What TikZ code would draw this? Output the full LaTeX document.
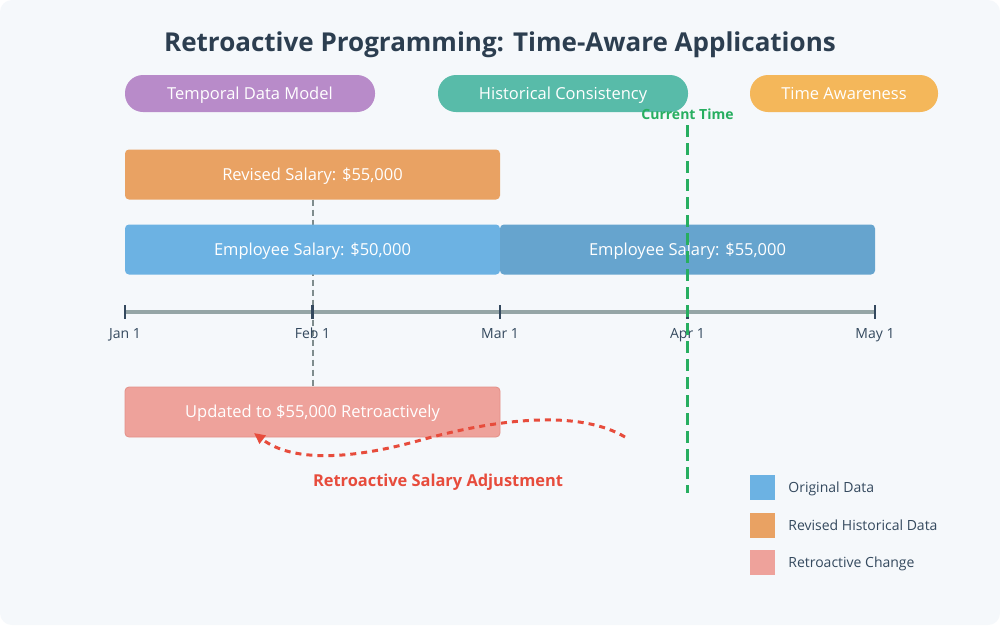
\documentclass[tikz,border=0pt]{standalone}
\usepackage{fontspec}
\setmainfont{Open Sans}
\usetikzlibrary{arrows.meta}

\definecolor{bgc}{HTML}{F5F8FB}
\definecolor{titlec}{HTML}{2C3E50}
\definecolor{inkc}{HTML}{34495E}
\definecolor{purplec}{HTML}{B88BC9}
\definecolor{tealc}{HTML}{58BBA9}
\definecolor{amberc}{HTML}{F4B75A}
\definecolor{revc}{HTML}{E9A263}
\definecolor{origc}{HTML}{6CB2E3}
\definecolor{newc}{HTML}{66A4CE}
\definecolor{retroc}{HTML}{EEA29B}
\definecolor{retroedge}{HTML}{E39088}
\definecolor{axisc}{HTML}{95A5A6}
\definecolor{guidec}{HTML}{7F8C8D}
\definecolor{nowc}{HTML}{27AE60}
\definecolor{adjc}{HTML}{E74C3C}

\tikzset{
  pill/.style={rounded corners=18pt, minimum width=250pt, minimum height=37pt,
    inner sep=0pt, text=white, text height=11.7pt, text depth=0pt,
    font=\fontsize{16.5}{19}\selectfont},
  bar/.style={rounded corners=4pt, minimum width=375pt, minimum height=50pt,
    inner sep=0pt, text=white, text height=11.7pt, text depth=0pt,
    font=\fontsize{16.5}{19}\selectfont},
  datelbl/.style={text=inkc, text height=10pt, text depth=0pt,
    font=\fontsize{14}{17}\selectfont},
  tickmark/.style={draw=inkc, line width=2.5pt},
  legbox/.style={minimum size=25pt, inner sep=0pt},
  legtxt/.style={anchor=west, inner sep=0pt, text=inkc, text height=10pt, text depth=0pt,
    font=\fontsize{14}{17}\selectfont},
}

\begin{document}
\begin{tikzpicture}[x=1pt, y=-1pt]
  % canvas
  \useasboundingbox (0,0) rectangle (1000,625);
  \fill[white] (0,0) rectangle (1000,625);
  \fill[bgc, rounded corners=12pt] (0,0) rectangle (1000,625);

  \node[text=titlec, text height=18.6pt, text depth=0pt, inner sep=0pt,
    font=\bfseries\fontsize{26}{31}\selectfont] (title) at (500,42)
    {Retroactive Programming: Time-Aware Applications};

  %% concept pills
  \node[pill, fill=purplec] (model) at (250,93.5) {Temporal Data Model};
  \node[pill, fill=tealc] (consist) at (563,93.5) {Historical Consistency};
  \node[pill, fill=amberc, minimum width=188pt] (aware) at (844,93.5) {Time Awareness};

  %% revised and retroactive records
  \node[bar, fill=revc] (revised) at (312.5,174.5) {Revised Salary: \$55,000};
  \node[bar, fill=retroc, draw=retroedge, line width=0.8pt] (updated) at (312.5,412)
    {Updated to \$55,000 Retroactively};
  \draw[guidec, line width=2pt, dash pattern=on 6pt off 4pt] (revised.south) -- (updated.north);

  %% salary records
  \node[bar, fill=origc] (salold) at (312.5,249.5) {Employee Salary: \$50,000};
  \node[bar, fill=newc] (salnew) at (687.5,249.5) {Employee Salary: \$55,000};

  %% time axis
  \coordinate (jan) at (125,312);
  \coordinate (may) at (875,312);
  \draw[axisc, line width=4pt] (jan) -- (may);
  \draw[tickmark] (125,305) -- (125,319);
  \draw[tickmark] (312.5,305) -- (312.5,319);
  \draw[tickmark] (500,305) -- (500,319);
  \draw[tickmark] (687.5,305) -- (687.5,319);
  \draw[tickmark] (875,305) -- (875,319);
  \node[datelbl] (janlbl) at (125,333) {Jan 1};
  \node[datelbl] (feblbl) at (312.5,333) {Feb 1};
  \node[datelbl] (marlbl) at (500,333) {Mar 1};
  \node[datelbl] (aprlbl) at (687.5,333) {Apr 1};
  \node[datelbl] (maylbl) at (875,333) {May 1};

  %% current time marker
  \node[text=nowc, text height=10pt, text depth=0pt, inner sep=0pt,
    font=\bfseries\fontsize{14}{16}\selectfont] (now) at (687.5,114) {Current Time};
  \coordinate (nowtop) at (687.5,125);
  \coordinate (nowend) at (687.5,493);
  \draw[nowc, line width=2.5pt, dash pattern=on 12pt off 6pt] (nowtop) -- (nowend);

  %% retroactive adjustment
  \coordinate (adjstart) at (625,437);
  \coordinate (adjtip) at (254,433);
  \draw[adjc, line width=3pt, dash pattern=on 6pt off 5pt, -{Triangle[length=11pt,width=10pt]}]
    (adjstart) .. controls (580,410) and (500,418) .. (421,440)
    .. controls (350,460) and (292,462) .. (adjtip);
  \node[text=adjc, text height=11.7pt, text depth=0pt, inner sep=0pt,
    font=\bfseries\fontsize{16.4}{19}\selectfont] (adjlbl) at (438,481)
    {Retroactive Salary Adjustment};

  %% legend
  \node[legbox, fill=origc] (legorig) at (762.5,487.5) {};
  \node[legtxt] (legorigtxt) at ([xshift=13pt]legorig.east) {Original Data};
  \node[legbox, fill=revc] (legrev) at (762.5,525) {};
  \node[legtxt] (legrevtxt) at ([xshift=13pt]legrev.east) {Revised Historical Data};
  \node[legbox, fill=retroc] (legretro) at (762.5,562.5) {};
  \node[legtxt] (legretrotxt) at ([xshift=13pt]legretro.east) {Retroactive Change};
\end{tikzpicture}
\end{document}
